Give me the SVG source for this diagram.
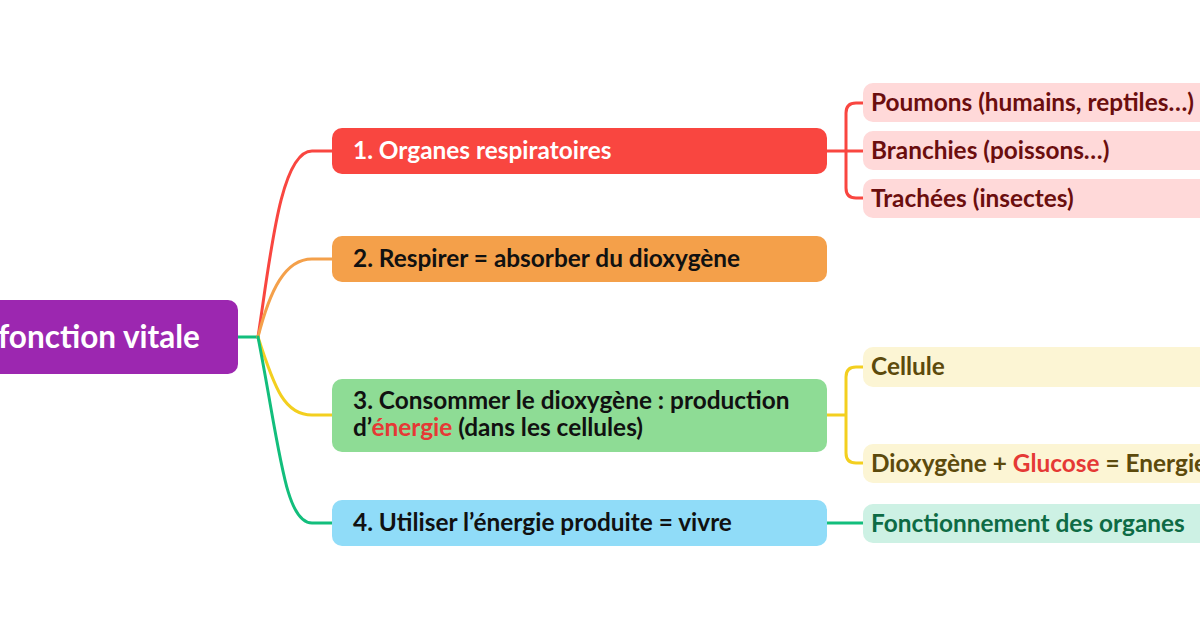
<svg xmlns="http://www.w3.org/2000/svg" width="1200" height="630" viewBox="0 0 1200 630">
<style>
.t{font-family:Lato,"Liberation Sans",sans-serif;font-weight:700;font-size:24.4px}
.c{fill:none;stroke-width:3;stroke-linecap:round;stroke-linejoin:round}
</style>
<rect width="1200" height="630" fill="#ffffff"/>
<g id="connectors">
<path class="c" stroke="#12BE7C" d="M238,337 H258"/>
<path class="c" stroke="#F94640" d="M258,337 C270,260 280,151 312,151 H332"/>
<path class="c" stroke="#F4A04A" d="M258,337 C270,290 285,259 312,259 H332"/>
<path class="c" stroke="#F3CF1F" d="M258,337 C275,390 285,415 312,415 H332"/>
<path class="c" stroke="#12BE7C" d="M258,337 C280,450 285,523 312,523 H332"/>
<path class="c" stroke="#F94640" d="M827,151 H865 M865,103 H856 Q846,103 846,113 V188 Q846,198 856,198 H865"/>
<path class="c" stroke="#F3CF1F" d="M827,415 H846 M865,367 H856 Q846,367 846,377 V453 Q846,463 856,463 H865"/>
<path class="c" stroke="#12BE7C" d="M827,523 H865"/>
</g>
<g id="root">
<rect x="-20" y="300" width="258" height="74" rx="10" fill="#9C27B0"/>
<text class="t" x="-2" y="348" style="font-size:31.5px" fill="#ffffff">fonction vitale</text>
</g>
<g id="n1">
<rect x="332" y="128" width="495" height="46" rx="10" fill="#F94640"/>
<text class="t" x="353" y="159" fill="#ffffff">1. Organes respiratoires</text>
</g>
<g id="n2">
<rect x="332" y="236" width="495" height="46" rx="10" fill="#F4A04A"/>
<text class="t" x="353" y="267" fill="#111111">2. Respirer = absorber du dioxygène</text>
</g>
<g id="n3">
<rect x="332" y="379" width="495" height="73" rx="10" fill="#8EDC95"/>
<text class="t" x="353" y="409" fill="#111111">3. Consommer le dioxygène : production</text>
<text class="t" x="353" y="436" fill="#111111">d’<tspan fill="#E53935">énergie</tspan> (dans les cellules)</text>
</g>
<g id="n4">
<rect x="332" y="500" width="495" height="46" rx="10" fill="#90DCF8"/>
<text class="t" x="353" y="531" fill="#111111">4. Utiliser l’énergie produite = vivre</text>
</g>
<g id="c1">
<rect x="863" y="83" width="360" height="39" rx="10" fill="#FFD9D9"/>
<text class="t" x="871" y="111" fill="#6B0E0E">Poumons (humains, reptiles…)</text>
</g>
<g id="c2">
<rect x="863" y="131" width="360" height="39" rx="10" fill="#FFD9D9"/>
<text class="t" x="871" y="159" fill="#6B0E0E">Branchies (poissons…)</text>
</g>
<g id="c3">
<rect x="863" y="179" width="360" height="39" rx="10" fill="#FFD9D9"/>
<text class="t" x="871" y="207" fill="#6B0E0E">Trachées (insectes)</text>
</g>
<g id="c4">
<rect x="863" y="347" width="360" height="40" rx="10" fill="#FCF5D4"/>
<text class="t" x="871" y="375" fill="#5C4A0C">Cellule</text>
</g>
<g id="c5">
<rect x="863" y="444" width="360" height="39" rx="10" fill="#FCF5D4"/>
<text class="t" x="871" y="472" fill="#5C4A0C">Dioxygène + <tspan fill="#E53935">Glucose</tspan> = Energie</text>
</g>
<g id="c6">
<rect x="863" y="504" width="360" height="39" rx="10" fill="#CDF1E4"/>
<text class="t" x="871" y="532" fill="#0E6B45">Fonctionnement des organes</text>
</g>
</svg>
